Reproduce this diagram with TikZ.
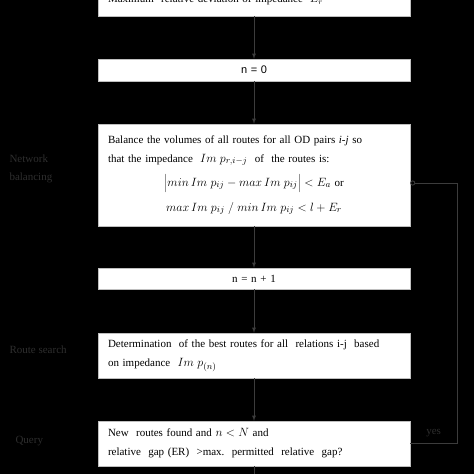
\documentclass[tikz,border=0pt]{standalone}
\usepackage{fontspec}
\setmainfont{Liberation Serif}
\setsansfont{Liberation Sans}
\usetikzlibrary{backgrounds,arrows.meta}
\definecolor{wire}{HTML}{3C3C3C}
\definecolor{dimtext}{HTML}{2E2E2E}
\tikzset{
  dark/.style = {
    background rectangle/.style={fill=black},
    show background rectangle,
    inner frame sep=0pt
  },
  stepbox/.style = {draw=gray!50, fill=white, minimum width=312pt,
    text width=292pt, inner xsep=10pt, align=left,
    font=\fontsize{11}{19}\selectfont},
  sidelabel/.style = {text=dimtext, anchor=west, align=left,
    font=\fontsize{11}{18}\selectfont},
  flow/.style = {draw=wire, line width=0.8pt, ->}
}
\tikzset{>=latex}
\newcommand{\bigmath}[1]{{\fontsize{13}{19}\selectfont$#1$}}

\begin{document}
\begin{tikzpicture}[dark, x=1pt, y=-1pt]
  \useasboundingbox (0,0) rectangle (474,474);
  % boxes
  \node[stepbox, anchor=south, text height=40pt, text depth=3pt, inner ysep=10pt] (maxdev) at (254,16)
    {Maximum\ \ relative deviation of impedance\ \ $E_r$};
  \node[stepbox, minimum height=22pt, align=center,
    font=\sffamily\fontsize{11}{13}\selectfont] (nzero) at (254,70) {n = 0};
  \node[stepbox, minimum height=102pt] (balance) at (254,175)
    {Balance the volumes of all routes for all OD pairs \textit{i-j} so\\
     that the impedance \ \bigmath{Im\;p_{r,i-j}}\ \ of\ \ the routes is:\par
     \centering\vspace{5pt}
     \bigmath{\Bigl|min\,Im\;p_{ij}-max\,Im\;p_{ij}\Bigr|<E_a} or\\[6pt]
     \bigmath{max\,Im\;p_{ij}\;/\;min\,Im\;p_{ij}<l+E_r}\par};
  \node[stepbox, minimum height=21pt, align=center] (step) at (254,278.5) {n = n + 1};
  \node[stepbox, minimum height=45pt] (route) at (254,355.5)
    {Determination\ \ of the best routes for all\ \ relations i-j\ \ based\\
     on impedance\ \ \bigmath{Im\;p_{(n)}}};
  \node[stepbox, minimum height=45pt] (query) at (254,443.5)
    {New\ \ routes found and \bigmath{n<N} and\\
     relative\ \ gap (ER)\ \ >max.\ \ permitted\ \ relative\ \ gap?};
  % phase labels
  \node[sidelabel] (netbal) at (6,169) {Network\\balancing};
  \node[sidelabel] (search) at (6,350) {Route search};
  \node[sidelabel] (ask) at (12,441) {Query};
  % connectors
  \coordinate (exit) at (254,480);
  \coordinate (loop) at (457,183);
  \draw[flow] (maxdev) -- (nzero);
  \draw[flow] (nzero) -- (balance);
  \draw[flow] (balance) -- (step);
  \draw[flow] (step) -- (route);
  \draw[flow] (route) -- (query);
  \draw[draw=wire, line width=0.8pt] (query) -- (exit);
  \draw[draw=wire, line width=0.8pt, -{Circle[open,length=5pt]}] (query.east)
    -| node[pos=0.25, above=3pt, text=dimtext, font=\fontsize{11}{13}\selectfont] (yes) {yes}
    (loop) -- (balance.east |- loop);
\end{tikzpicture}
\end{document}
